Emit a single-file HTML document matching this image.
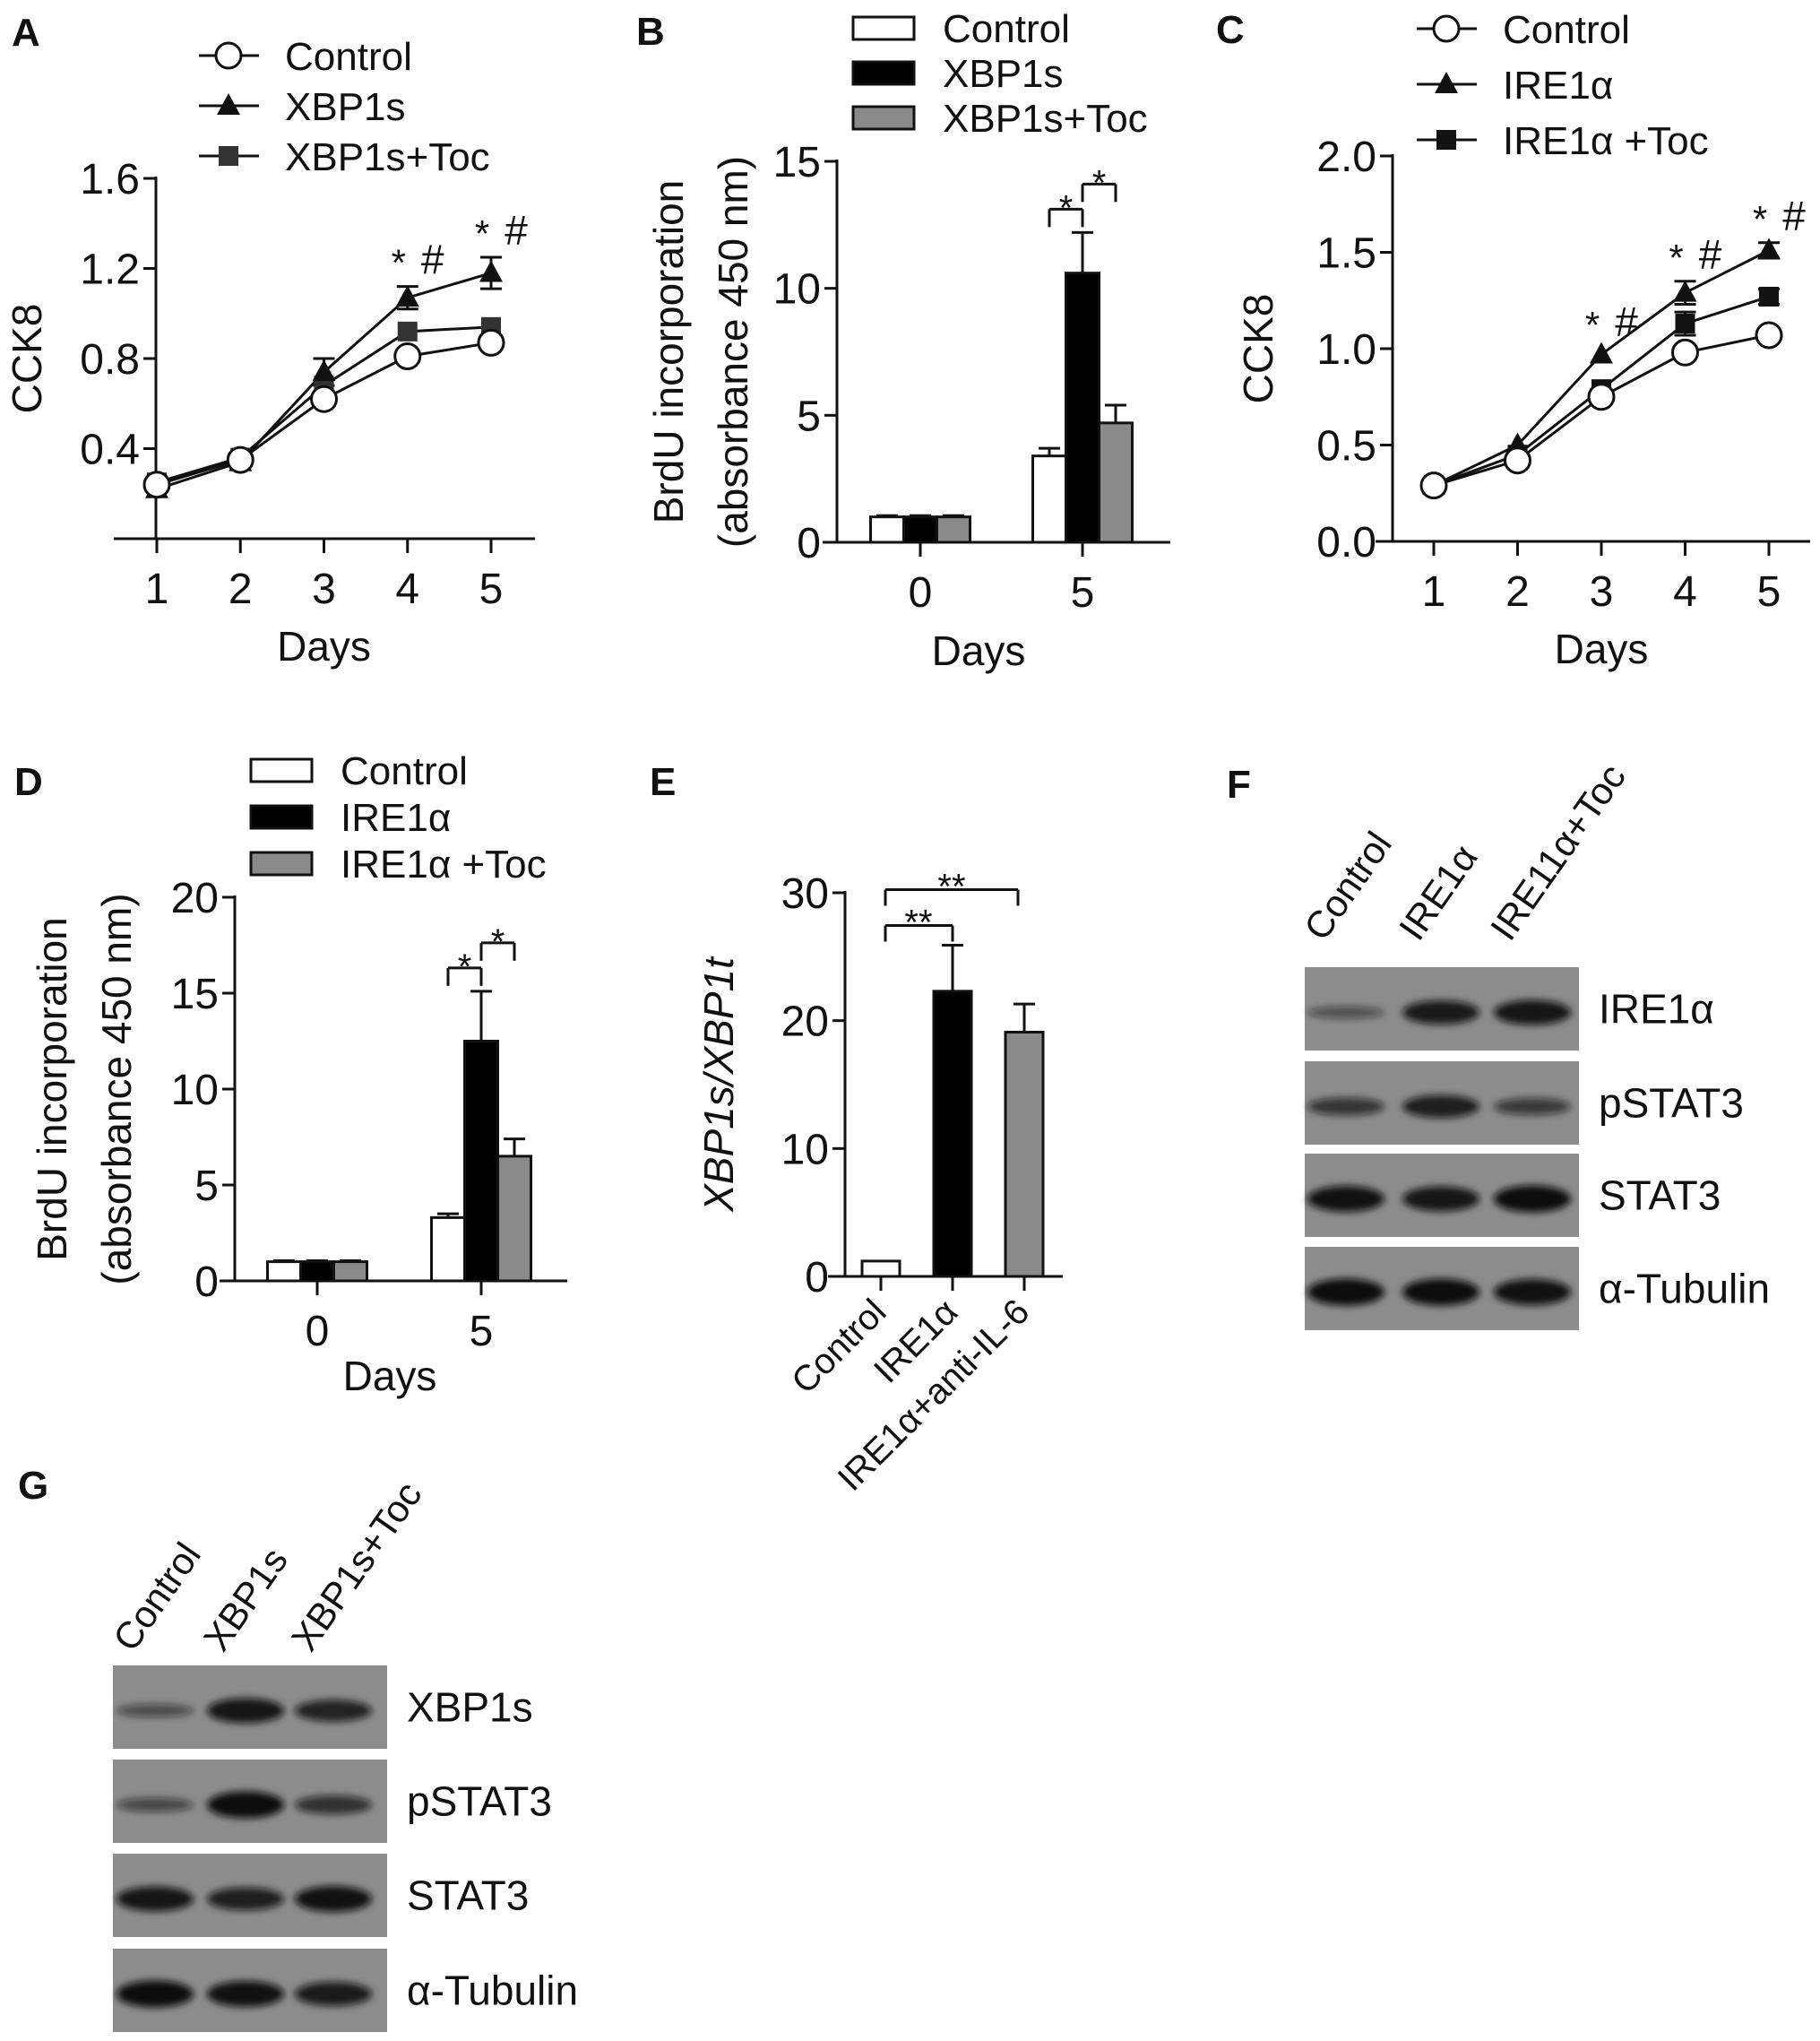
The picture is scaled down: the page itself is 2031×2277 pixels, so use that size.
<!DOCTYPE html>
<html><head><meta charset="utf-8"><style>
html,body{margin:0;padding:0;background:#fff}
svg{display:block;font-family:"Liberation Sans",Arial,sans-serif}
</style></head><body>
<svg id="fig" width="2031" height="2277" viewBox="0 0 2031 2277" xmlns="http://www.w3.org/2000/svg">
<defs><filter id="blur" x="-20%" y="-100%" width="140%" height="300%"><feGaussianBlur stdDeviation="4"/></filter></defs>
</svg>
<script>
// ---- Panel A data ----
const aDays = [1,2,3,4,5];
const aControl = [0.24,0.35,0.62,0.81,0.87];
const aXbp = [0.22,0.34,0.74,1.07,1.18];
const aXbpErr = [0.03,0.03,0.06,0.05,0.07];
const aToc = [0.25,0.36,0.68,0.92,0.94];
const aTicks = [0.4,0.8,1.2,1.6];
// ---- Panel B data ----
const bGroups = ["0","5"];
const bControl = [1.0,3.4]; const bControlErr=[0.05,0.3];
const bXbp = [1.0,10.6]; const bXbpErr=[0.05,1.6];
const bToc = [1.0,4.7]; const bTocErr=[0.05,0.7];
const bTicks = [0,5,10,15];
// ---- Panel C data ----
const cDays = [1,2,3,4,5];
const cControl = [0.29,0.42,0.75,0.98,1.07];
const cIre = [0.29,0.50,0.97,1.29,1.51];
const cIreErr = [0.02,0.02,0.03,0.06,0.04];
const cToc = [0.29,0.45,0.79,1.13,1.27];
const cTocErr = [0.02,0.02,0.03,0.06,0.04];
const cTicks = [0.0,0.5,1.0,1.5,2.0];
// ---- Panel D data ----
const dGroups = ["0","5"];
const dControl = [1.0,3.3]; const dControlErr=[0.05,0.2];
const dIre = [1.0,12.5]; const dIreErr=[0.05,2.6];
const dToc = [1.0,6.5]; const dTocErr=[0.05,0.9];
const dTicks = [0,5,10,15,20];
// ---- Panel E data ----
const eCats = ["Control","IRE1α","IRE1α+anti-IL-6"];
const eVals = [1.2,22.3,19.1];
const eErr = [0.1,3.6,2.2];
const eTicks = [0,10,20,30];
// ---- Blot band intensities (0..1) ----
const fRows = ["IRE1α","pSTAT3","STAT3","α-Tubulin"];
const fLanes = ["Control","IRE1α","IRE11α+Toc"];
const fBands = [[0.25,0.85,0.9],[0.55,0.8,0.5],[0.95,0.9,1.0],[1.0,1.0,0.95]];
const gRows = ["XBP1s","pSTAT3","STAT3","α-Tubulin"];
const gLanes = ["Control","XBP1s","XBP1s+Toc"];
const gBands = [[0.3,0.9,0.75],[0.35,1.0,0.6],[0.9,0.8,0.95],[1.0,0.95,0.85]];

const svg=document.getElementById('fig');
const NS='http://www.w3.org/2000/svg';
const TICK=48, LEG=44, TITLE=46;
function mk(tag,attrs,parent,text){const e=document.createElementNS(NS,tag);for(const k in attrs)e.setAttribute(k,attrs[k]);if(text!==undefined)e.textContent=text;(parent||svg).appendChild(e);return e;}
function line(p,x1,y1,x2,y2,w){return mk('line',{x1,y1,x2,y2,stroke:'#111','stroke-width':w||3},p);}
function txt(p,x,y,s,size,anchor,extra){const t=mk('text',Object.assign({x,y,'font-size':size,'text-anchor':anchor||'middle',fill:'#111'},extra||{}),p,s);return t;}
function grp(name){const g=mk('g',{});return g;}

function panelLetter(s,x,y){const t=txt(svg,x,y,s,44,'start',{'font-weight':'bold'});}

function marker(p,type,x,y){
  if(type==='circle')return mk('circle',{cx:x,cy:y,r:14,fill:'#fff',stroke:'#111','stroke-width':3},p);
  if(type==='tri')return mk('polygon',{points:`${x},${y-14} ${x-13},${y+10} ${x+13},${y+10}`,fill:'#111'},p);
  return mk('rect',{x:x-11,y:y-11,width:22,height:22,fill:type==='sqgray'?'#333':'#111'},p);
}

function lineChart(o){
  const g=grp(o.name);
  const ys=v=>o.y0-(v/o.yMax)*(o.y0-o.yTop);
  const xs=d=>o.x1+(d-1)*(o.x5-o.x1)/4;
  const ax=grp(o.name+'-y-axis');g.appendChild(ax);
  line(ax,o.axX,o.y0,o.axX,o.yTop-2);
  o.ticks.forEach(t=>{const y=ys(t);line(ax,o.axX-14,y,o.axX,y);txt(ax,o.axX-18,y+17,t.toFixed(1),TICK,'end');});
  const bx=grp(o.name+'-x-axis');g.appendChild(bx);
  line(bx,o.xStart,o.y0,o.xEnd,o.y0);
  o.days.forEach(d=>{const x=xs(d);line(bx,x,o.y0,x,o.y0+16);txt(bx,x,o.y0+72,String(d),TICK);});
  const xt=txt(g,(o.x1+o.x5)/2,o.y0+136,'Days',TITLE);
  const yt=txt(g,0,0,'CCK8',TITLE,'middle',{transform:`translate(${o.ylx},${(o.yTop+o.y0)/2}) rotate(-90)`});
  o.series.forEach(s=>{
    const sg=grp('series-'+s.key);g.appendChild(sg);
    const pts=o.days.map((d,i)=>xs(d)+','+ys(s.vals[i])).join(' ');
    mk('polyline',{points:pts,fill:'none',stroke:'#111','stroke-width':3},sg);
    if(s.err)o.days.forEach((d,i)=>{if(s.err[i]<0.04)return;const x=xs(d),y1=ys(s.vals[i]+s.err[i]),y2=ys(s.vals[i]-s.err[i]);line(sg,x,y1,x,y2);line(sg,x-12,y1,x+12,y1);line(sg,x-12,y2,x+12,y2);});
  });
  o.series.slice().reverse().forEach(s=>{o.days.forEach((d,i)=>{const m=marker(g,s.marker,xs(d),ys(s.vals[i]));});});
  o.sig.forEach(d=>{const i=d-1;const x=xs(d),y=ys(o.series[1].vals[i]+o.series[1].err[i]);txt(g,x-10,y-12,'*',42);txt(g,x+28,y-14,'#',46);});
  const lg=grp(o.name+'-legend');g.appendChild(lg);
  o.series.forEach((s,i)=>{const y=o.legY+i*o.legDy;const e=grp('legend-entry-'+s.key);lg.appendChild(e);line(e,o.legX,y,o.legX+67,y);marker(e,s.marker,o.legX+33,y);txt(e,o.legX+96,y+16,s.label,LEG,'start');});
}

lineChart({name:'panel-a-cck8-chart',axX:174,yTop:199,y0:601,yMax:1.6,x1:175,x5:548,xStart:127,xEnd:597,ylx:46,ticks:aTicks,days:aDays,
  series:[{key:'control',label:'Control',vals:aControl,marker:'circle'},{key:'xbp1s',label:'XBP1s',vals:aXbp,err:aXbpErr,marker:'tri'},{key:'xbp1s-toc',label:'XBP1s+Toc',vals:aToc,marker:'sqgray'}],
  sig:[4,5],legX:222,legY:62,legDy:56});
lineChart({name:'panel-c-cck8-chart',axX:1554,yTop:174,y0:604,yMax:2.0,x1:1600,x5:1974,xStart:1535,xEnd:2020,ylx:1420,ticks:cTicks,days:cDays,
  series:[{key:'control',label:'Control',vals:cControl,marker:'circle'},{key:'ire1a',label:'IRE1α',vals:cIre,err:cIreErr,marker:'tri'},{key:'ire1a-toc',label:'IRE1α +Toc',vals:cToc,err:cTocErr,marker:'sq'}],
  sig:[3,4,5],legX:1581,legY:32,legDy:62});

function barChart(o){
  const g=grp(o.name);
  const ys=v=>o.y0-(v/o.yMax)*(o.y0-o.yTop);
  const ax=grp(o.name+'-y-axis');g.appendChild(ax);
  line(ax,o.axX,o.y0,o.axX,o.yTop-2);
  o.ticks.forEach(t=>{const y=ys(t);line(ax,o.axX-14,y,o.axX,y);txt(ax,o.axX-18,y+17,String(t),TICK,'end');});
  const bx=grp(o.name+'-x-axis');g.appendChild(bx);
  line(bx,o.xStart,o.y0,o.xEnd,o.y0);
  const fills=['#fff','#000','#8a8a8a'];
  o.groups.forEach((gl,gi)=>{
    const cx=o.gx[gi];line(bx,cx,o.y0,cx,o.y0+16);txt(bx,cx,o.y0+72,gl,TICK);
    o.series.forEach((s,si)=>{
      const bxx=cx-1.5*o.bw+si*o.bw;
      const r=mk('rect',{x:bxx,y:ys(s.vals[gi]),width:o.bw,height:o.y0-ys(s.vals[gi]),fill:fills[si],stroke:'#111','stroke-width':3},g);
      
      const ex=bxx+o.bw/2,ey=ys(s.vals[gi]+s.err[gi]);line(g,ex,ys(s.vals[gi]),ex,ey);line(g,ex-12,ey,ex+12,ey);
    });
  });
  const cx=o.gx[1];const c0=cx-o.bw,c1=cx,c2=cx+o.bw;
  const top1=ys(o.series[1].vals[1]+o.series[1].err[1])-26;
  line(g,c0,top1,c1,top1);line(g,c0,top1,c0,top1+20);line(g,c1,top1,c1,top1+20);txt(g,(c0+c1)/2,top1+12,'*',40);
  const top2=top1-28;line(g,c1,top2,c2,top2);line(g,c1,top2,c1,top2+20);line(g,c2,top2,c2,top2+20);txt(g,(c1+c2)/2,top2+12,'*',40);
  const xt=txt(g,o.daysX,o.daysY,'Days',TITLE);
  const yt=mk('text',{transform:`translate(${o.ylx},${(o.yTop+o.y0)/2}) rotate(-90)`,'text-anchor':'middle','font-size':TITLE,fill:'#111'},g);
  
  mk('tspan',{x:0,y:0},yt,'BrdU incorporation');mk('tspan',{x:0,y:72},yt,'(absorbance 450 nm)');
  const lg=grp(o.name+'-legend');g.appendChild(lg);
  o.series.forEach((s,i)=>{const y=o.legY+i*o.legDy;const e=grp('legend-entry-'+s.key);lg.appendChild(e);mk('rect',{x:o.legX,y:y-12,width:68,height:25,fill:fills[i],stroke:'#111','stroke-width':3},e);txt(e,o.legX+100,y+16,s.label,LEG,'start');});
}
barChart({name:'panel-b-brdu-chart',axX:934,yTop:180,y0:605,yMax:15,xStart:918,xEnd:1306,gx:[1027,1208],bw:37,ticks:bTicks,groups:bGroups,
  series:[{key:'control',label:'Control',vals:bControl,err:bControlErr},{key:'xbp1s',label:'XBP1s',vals:bXbp,err:bXbpErr},{key:'xbp1s-toc',label:'XBP1s+Toc',vals:bToc,err:bTocErr}],
  daysX:1092,daysY:742,ylx:762,legX:952,legY:31,legDy:50});
barChart({name:'panel-d-brdu-chart',axX:262,yTop:1001,y0:1429,yMax:20,xStart:245,xEnd:633,gx:[354,537],bw:37,ticks:dTicks,groups:dGroups,
  series:[{key:'control',label:'Control',vals:dControl,err:dControlErr},{key:'ire1a',label:'IRE1α',vals:dIre,err:dIreErr},{key:'ire1a-toc',label:'IRE1α +Toc',vals:dToc,err:dTocErr}],
  daysX:435,daysY:1551,ylx:74,legX:280,legY:859,legDy:52});

// Panel E
(function(){
  const g=grp('panel-e-xbp1-ratio-chart');
  const y0=1424,yTop=996,yMax=30,axX=943;const ys=v=>y0-(v/yMax)*(y0-yTop);
  const cx=[983,1063,1143],bw=42,fills=['#fff','#000','#8a8a8a'];
  const ax=grp('panel-e-y-axis');g.appendChild(ax);line(ax,axX,y0,axX,yTop-2);
  eTicks.forEach(t=>{const y=ys(t);line(ax,axX-14,y,axX,y);txt(ax,axX-18,y+17,String(t),TICK,'end');});
  const bx=grp('panel-e-x-axis');g.appendChild(bx);line(bx,924,y0,1186,y0);
  eCats.forEach((c,i)=>{line(bx,cx[i],y0,cx[i],y0+16);txt(bx,cx[i]+8,y0+42,c,40,'end',{transform:`rotate(-45 ${cx[i]+8} ${y0+42})`});
    const r=mk('rect',{x:cx[i]-bw/2,y:ys(eVals[i]),width:bw,height:y0-ys(eVals[i]),fill:fills[i],stroke:'#111','stroke-width':3},g);
    
    if(i>0){const ey=ys(eVals[i]+eErr[i]);line(g,cx[i],ys(eVals[i]),cx[i],ey);line(g,cx[i]-12,ey,cx[i]+12,ey);}});
  const b1=ys(eVals[1]+eErr[1])-22;line(g,988,b1,1063,b1);line(g,988,b1,988,b1+18);line(g,1063,b1,1063,b1+18);txt(g,1025,b1+10,'**',40);
  const b2=b1-40;line(g,988,b2,1136,b2);line(g,988,b2,988,b2+18);line(g,1136,b2,1136,b2+18);txt(g,1062,b2+10,'**',40);
  const yt=mk('text',{transform:'translate(818,1210) rotate(-90)','text-anchor':'middle','font-size':TITLE,'font-style':'italic',fill:'#111'},g,'XBP1s/XBP1t');
  
})();

function blot(o){
  const g=grp(o.name);
  o.lanes.forEach((l,i)=>{const t=txt(g,o.laneX[i]-25,o.laneY,l,42,'start',{transform:`rotate(-55 ${o.laneX[i]-25} ${o.laneY})`});});
  o.rows.forEach((r,ri)=>{
    const rg=grp('blot-row-'+r.replace(/[^a-z0-9]/gi,'').toLowerCase());g.appendChild(rg);
    const y=o.rowY[ri];
    mk('rect',{x:o.x,y:y,width:o.w,height:o.h,fill:'#8c8c8c'},rg);
    o.bands[ri].forEach((v,li)=>{
      const b=mk('ellipse',{cx:o.laneX[li],cy:y+o.h/2+4,rx:o.bandW/2,ry:4+v*11,fill:`rgba(15,15,15,${0.35+0.65*v})`,filter:'url(#blur)'},rg);
      
    });
    txt(rg,o.x+o.w+22,y+o.h/2+16,r,46,'start');
  });
}
blot({name:'panel-f-western-blot',x:1456,w:306,h:93,rowY:[1079,1184,1287,1391],laneX:[1502,1608,1710],bandW:86,laneY:1052,lanes:fLanes,rows:fRows,bands:fBands});
blot({name:'panel-g-western-blot',x:126,w:306,h:93,rowY:[1858,1963,2068,2174],laneX:[173,274,372],bandW:86,laneY:1845,lanes:gLanes,rows:gRows,bands:gBands});

panelLetter('A',13,51);panelLetter('B',710,50);panelLetter('C',1357,48);
panelLetter('D',16,887);panelLetter('E',725,887);panelLetter('F',1369,890);panelLetter('G',20,1672);
</script>
</body></html>
